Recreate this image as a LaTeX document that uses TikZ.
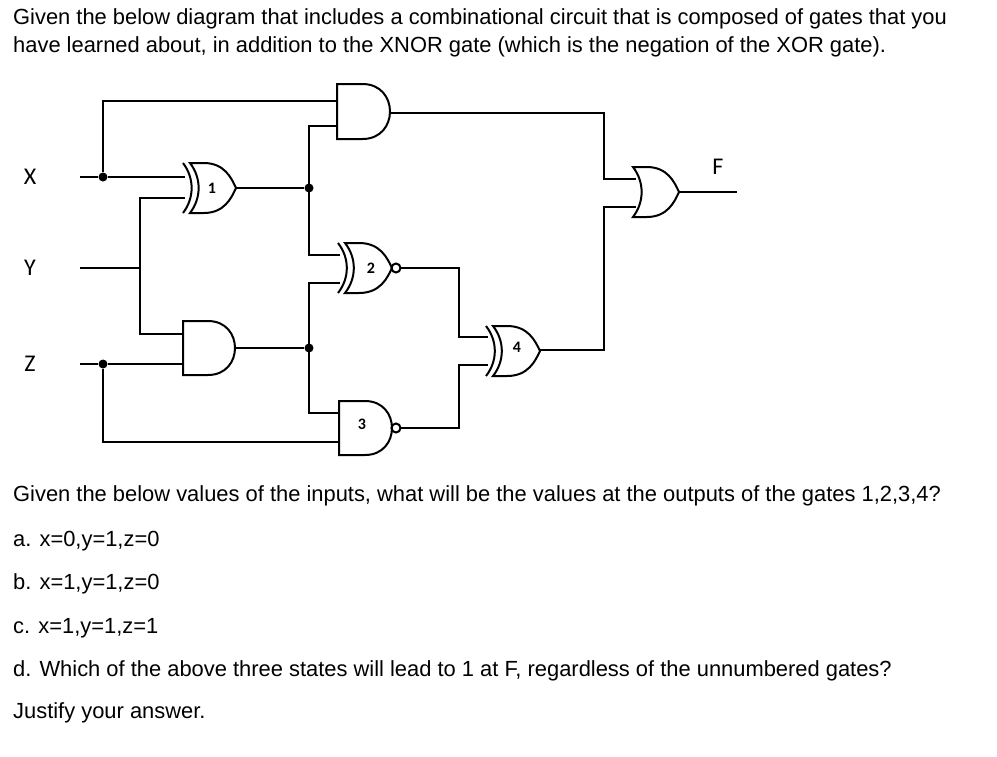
\documentclass[tikz,border=0pt]{standalone}
\usepackage{fontspec}
\setmainfont{Liberation Sans}
\newfontfamily\lbl{Carlito}
\newcommand\gAND[4]{% L T B tip
  \draw[gate] (#1,#2) -- ({#4-(#3-#2)/2},#2) .. controls ({#4-(#3-#2)/2+2/3*(#3-#2)},#2) and ({#4-(#3-#2)/2+2/3*(#3-#2)},#3) .. ({#4-(#3-#2)/2},#3) -- (#1,#3) -- cycle;}
\newcommand\gOR[4]{%
  \draw[gate] (#1,#2) -- ({#1+0.3*(#4-#1)},#2) .. controls ({#1+0.75*(#4-#1)},#2) and ({#4-0.1*(#4-#1)},{#2+0.3*(#3-#2)}) .. (#4,{(#2+#3)/2})
   .. controls ({#4-0.1*(#4-#1)},{#3-0.3*(#3-#2)}) and ({#1+0.75*(#4-#1)},#3) .. ({#1+0.3*(#4-#1)},#3) -- (#1,#3)
   .. controls ({#1+0.25*(#4-#1)},{#3-0.3*(#3-#2)}) and ({#1+0.25*(#4-#1)},{#2+0.3*(#3-#2)}) .. (#1,#2) -- cycle;}
\newcommand\gXBK[4]{%
  \draw[gate] ({#1-7},#2) .. controls ({#1-7+0.25*(#4-#1)},{#2+0.3*(#3-#2)}) and ({#1-7+0.25*(#4-#1)},{#3-0.3*(#3-#2)}) .. ({#1-7},#3);}
\tikzset{gate/.style={line width=2pt},wire/.style={line width=1.7pt},
  dot/.style={circle,fill,inner sep=0pt,minimum size=9pt},
  txt/.style={anchor=west,inner sep=0pt,font=\fontsize{21.9}{24}\selectfont},
  pin/.style={font=\lbl\fontsize{24}{26}\selectfont},
  num/.style={font=\lbl\bfseries\fontsize{16}{18}\selectfont}}
\begin{document}
\begin{tikzpicture}[x=1pt,y=-1pt]
\useasboundingbox (0,0) rectangle (997,756);
% gates
\gAND{337}{84}{139}{390}
\gAND{183}{321}{375}{235}
\gAND{339}{401}{455}{392}
\draw[gate] (396,428) circle (4.5);
\gOR{190}{163}{213}{236}\gXBK{190}{163}{213}{236}
\gOR{345}{243}{293}{392}\gXBK{345}{243}{293}{392}
\draw[gate] (396,268) circle (4.5);
\gOR{493}{326}{376}{540}\gXBK{493}{326}{376}{540}
\gOR{633}{167}{217}{679}
% labels
\node[pin] (X) at (30,177) {X};
\node[pin] (Y) at (30,268) {Y};
\node[pin] (Z) at (30,364) {Z};
\node[pin] (F) at (718,167) {F};
\node[num] (n1) at (212,188) {1};
\node[num] (n2) at (371,268) {2};
\node[num] (n3) at (362,424) {3};
\node[num] (n4) at (517,347) {4};
% junctions
\node[dot] (dx) at (103,177) {};
\node[dot] (dz) at (103,364) {};
\node[dot] (d1) at (309,188) {};
\node[dot] (d2) at (309,348) {};
% wires
\draw[wire] (80,177) -- (dx) -- (185,177);
\draw[wire] (dx) -- (103,101) -- (337,101);
\draw[wire] (80,268) -- (140,268);
\draw[wire] (185,198) -- (140,198) -- (140,334) -- (183,334);
\draw[wire] (80,364) -- (dz) -- (183,364);
\draw[wire] (dz) -- (103,442) -- (339,442);
\draw[wire] (236,188) -- (d1);
\draw[wire] (337,126) -- (309,126) -- (309,255) -- (340,255);
\draw[wire] (235,348) -- (d2);
\draw[wire] (340,283) -- (309,283) -- (309,413) -- (339,413);
\draw[wire] (390,113) -- (604,113) -- (604,179) -- (636,179);
\draw[wire] (636,207) -- (604,207) -- (604,350) -- (540,350);
\draw[wire] (400,268) -- (459,268) -- (459,337) -- (488,337);
\draw[wire] (400,428) -- (459,428) -- (459,365) -- (488,365);
\draw[wire] (679,192) -- (737,192);
% text
\node[txt] at (13,19) {Given the below diagram that includes a combinational circuit that is composed of gates that you};
\node[txt] at (13,47) {have learned about, in addition to the XNOR gate (which is the negation of the XOR gate).};
\node[txt] at (13,496) {Given the below values of the inputs, what will be the values at the outputs of the gates 1,2,3,4?};
\node[txt] at (13,541) {a. x=0,y=1,z=0};
\node[txt] at (13,584) {b. x=1,y=1,z=0};
\node[txt] at (13,628) {c. x=1,y=1,z=1};
\node[txt] at (13,671) {d. Which of the above three states will lead to 1 at F, regardless of the unnumbered gates?};
\node[txt] at (13,713) {Justify your answer.};
\end{tikzpicture}
\end{document}
